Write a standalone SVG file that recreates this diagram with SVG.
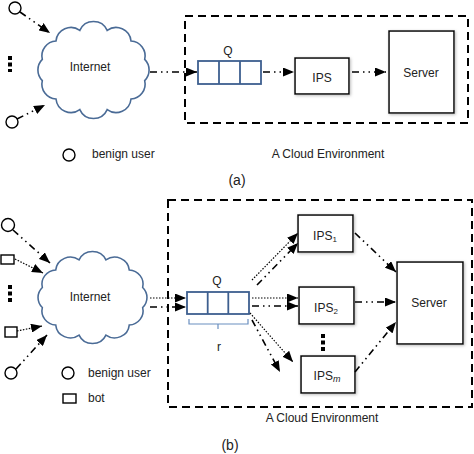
<svg xmlns="http://www.w3.org/2000/svg" width="474" height="454" viewBox="0 0 474 454">
<style>
text { font-family: "Liberation Sans", Arial, sans-serif; font-size: 12px; fill: #222; }
.dd { stroke: #000; stroke-width: 1.6; fill: none; stroke-dasharray: 7 4 1.5 4 1.5 4; marker-end: url(#ah); }
.dot { stroke: #000; stroke-width: 1.2; fill: none; stroke-dasharray: 1.5 1.5; marker-end: url(#ah); }
.box { fill: #fff; stroke: #000; stroke-width: 1.5; filter: url(#sh); }
.q { fill: #fff; stroke: #3d5f8f; stroke-width: 1.8; }
.cloud { fill: #fff; stroke: #4a6b96; stroke-width: 1.6; }
.env { fill: none; stroke: #000; stroke-width: 2; stroke-dasharray: 8 5; }
.usr { fill: #fff; stroke: #000; stroke-width: 1.4; }
.vdots { stroke: #000; stroke-width: 4; stroke-dasharray: 4 2.5; fill: none; }
</style>
<defs>
<marker id="ah" markerUnits="userSpaceOnUse" markerWidth="11" markerHeight="9" viewBox="0 0 11 9" refX="11" refY="4.5" orient="auto">
<path d="M0,0 L11,4.5 L0,9 z" fill="#000"/>
</marker>
<filter id="sh" x="-20%" y="-20%" width="140%" height="140%">
<feDropShadow dx="1" dy="1" stdDeviation="1.5" flood-color="#888" flood-opacity="0.6"/>
</filter>
<path id="cloudshape" d="M-51.2,-10.6 A15,15 0 0 1 -37.5,-29 A15,15 0 0 1 -13.7,-39.6 A15,15 0 0 1 13.7,-39.6 A15,15 0 0 1 37.5,-29 A15,15 0 0 1 51.2,-10.6 A15,15 0 0 1 51.2,10.6 A15,15 0 0 1 37.5,29 A15,15 0 0 1 13.7,39.6 A15,15 0 0 1 -13.7,39.6 A15,15 0 0 1 -37.5,29 A15,15 0 0 1 -51.2,10.6 A15,15 0 0 1 -51.2,-10.6 Z"/>
</defs>

<!-- ===== Part (a) ===== -->
<g id="a-env"><rect class="env" x="185" y="16" width="283" height="107"/></g>
<g id="a-user1"><circle class="usr" cx="15" cy="8" r="6"/></g>
<g id="a-user2"><circle class="usr" cx="12" cy="122" r="6"/></g>
<g id="a-dots"><line class="vdots" x1="10" y1="56" x2="10" y2="72"/></g>
<g id="a-cloud"><use href="#cloudshape" class="cloud" transform="translate(93.5,70)"/><text x="90" y="71" text-anchor="middle">Internet</text></g>
<g id="a-queue">
<rect class="q" x="198" y="61" width="63" height="23"/>
<line class="q" x1="219" y1="61" x2="219" y2="84"/>
<line class="q" x1="240" y1="61" x2="240" y2="84"/>
<text x="228" y="55" text-anchor="middle">Q</text>
</g>
<g id="a-ips"><rect class="box" x="295" y="58" width="54" height="36"/><text x="322" y="82" text-anchor="middle">IPS</text></g>
<g id="a-server"><rect class="box" x="389" y="31" width="65" height="82"/><text x="421" y="77" text-anchor="middle">Server</text></g>
<g id="a-legend"><circle class="usr" cx="69" cy="155" r="6"/><text x="92" y="158">benign user</text></g>
<text x="328" y="158" text-anchor="middle">A Cloud Environment</text>
<text x="237" y="185" text-anchor="middle" style="font-size:14px">(a)</text>
<g id="a-connectors">
<path class="dd" d="M20,12 L50,33"/>
<path class="dd" d="M17,119 L45,105"/>
<path class="dd" d="M150,72 L197,72"/>
<path class="dd" d="M263,72 L294,72"/>
<path class="dd" d="M352,72 L386,72"/>
</g>

<!-- ===== Part (b) ===== -->
<g id="b-env"><rect class="env" x="168" y="200" width="304" height="207"/></g>
<g id="b-user1"><circle class="usr" cx="8" cy="225" r="6.5"/></g>
<g id="b-bot1"><rect class="usr" x="1" y="255" width="13" height="9"/></g>
<g id="b-dots"><line class="vdots" x1="10" y1="285" x2="10" y2="302"/></g>
<g id="b-bot2"><rect class="usr" x="5" y="327" width="12" height="10"/></g>
<g id="b-user2"><circle class="usr" cx="11" cy="373" r="6"/></g>
<g id="b-cloud"><use href="#cloudshape" class="cloud" transform="translate(92.5,297.5) scale(0.98,0.95)"/><text x="90" y="301" text-anchor="middle">Internet</text></g>
<g id="b-queue">
<rect class="q" x="187" y="292" width="62" height="22"/>
<line class="q" x1="207.7" y1="292" x2="207.7" y2="314"/>
<line class="q" x1="228.3" y1="292" x2="228.3" y2="314"/>
<text x="217" y="285" text-anchor="middle">Q</text>
<path d="M189,319 v5 h59 v-5 M218,324 v5" fill="none" stroke="#6a8fc0" stroke-width="1.2"/>
<text x="219" y="351" text-anchor="middle">r</text>
</g>
<g id="b-ips1"><rect class="box" x="298" y="215" width="55" height="37"/><text x="325" y="240" text-anchor="middle">IPS<tspan font-size="8" dy="2">1</tspan></text></g>
<g id="b-ips2"><rect class="box" x="299" y="287" width="55" height="37"/><text x="326" y="312" text-anchor="middle">IPS<tspan font-size="8" dy="2">2</tspan></text></g>
<g id="b-ipsdots"><line class="vdots" x1="323" y1="334" x2="323" y2="353"/></g>
<g id="b-ipsm"><rect class="box" x="301" y="356" width="54" height="37"/><text x="327" y="380" text-anchor="middle">IPS<tspan font-size="9" dy="2" font-style="italic">m</tspan></text></g>
<g id="b-server"><rect class="box" x="397" y="262" width="66" height="82"/><text x="429" y="307" text-anchor="middle">Server</text></g>
<g id="b-legend">
<circle class="usr" cx="68" cy="373" r="6"/><text x="88" y="377">benign user</text>
<rect class="usr" x="63" y="394" width="13" height="9"/><text x="88" y="402">bot</text>
</g>
<text x="322" y="422" text-anchor="middle">A Cloud Environment</text>
<text x="230" y="450" text-anchor="middle" style="font-size:14px">(b)</text>
<g id="b-connectors">
<path class="dd" d="M13,230 L50,263"/>
<path class="dot" d="M15,259 L43,273"/>
<path class="dot" d="M17,331 L42,326"/>
<path class="dd" d="M16,369 L47,335"/>
<path class="dot" d="M150,298 L186,298"/>
<path class="dd" d="M150,307 L186,307"/>
<path class="dot" d="M252,280 L298,233"/>
<path class="dd" d="M257,285 L298,243"/>
<path class="dot" d="M252,298 L298,298"/>
<path class="dd" d="M252,306 L298,306"/>
<path class="dot" d="M250,313 L293,362"/>
<path class="dd" d="M252,320 L280,372"/>
<path class="dd" d="M355,233 L396,272"/>
<path class="dd" d="M355,302 L396,302"/>
<path class="dd" d="M355,372 L396,322"/>
</g>
</svg>
